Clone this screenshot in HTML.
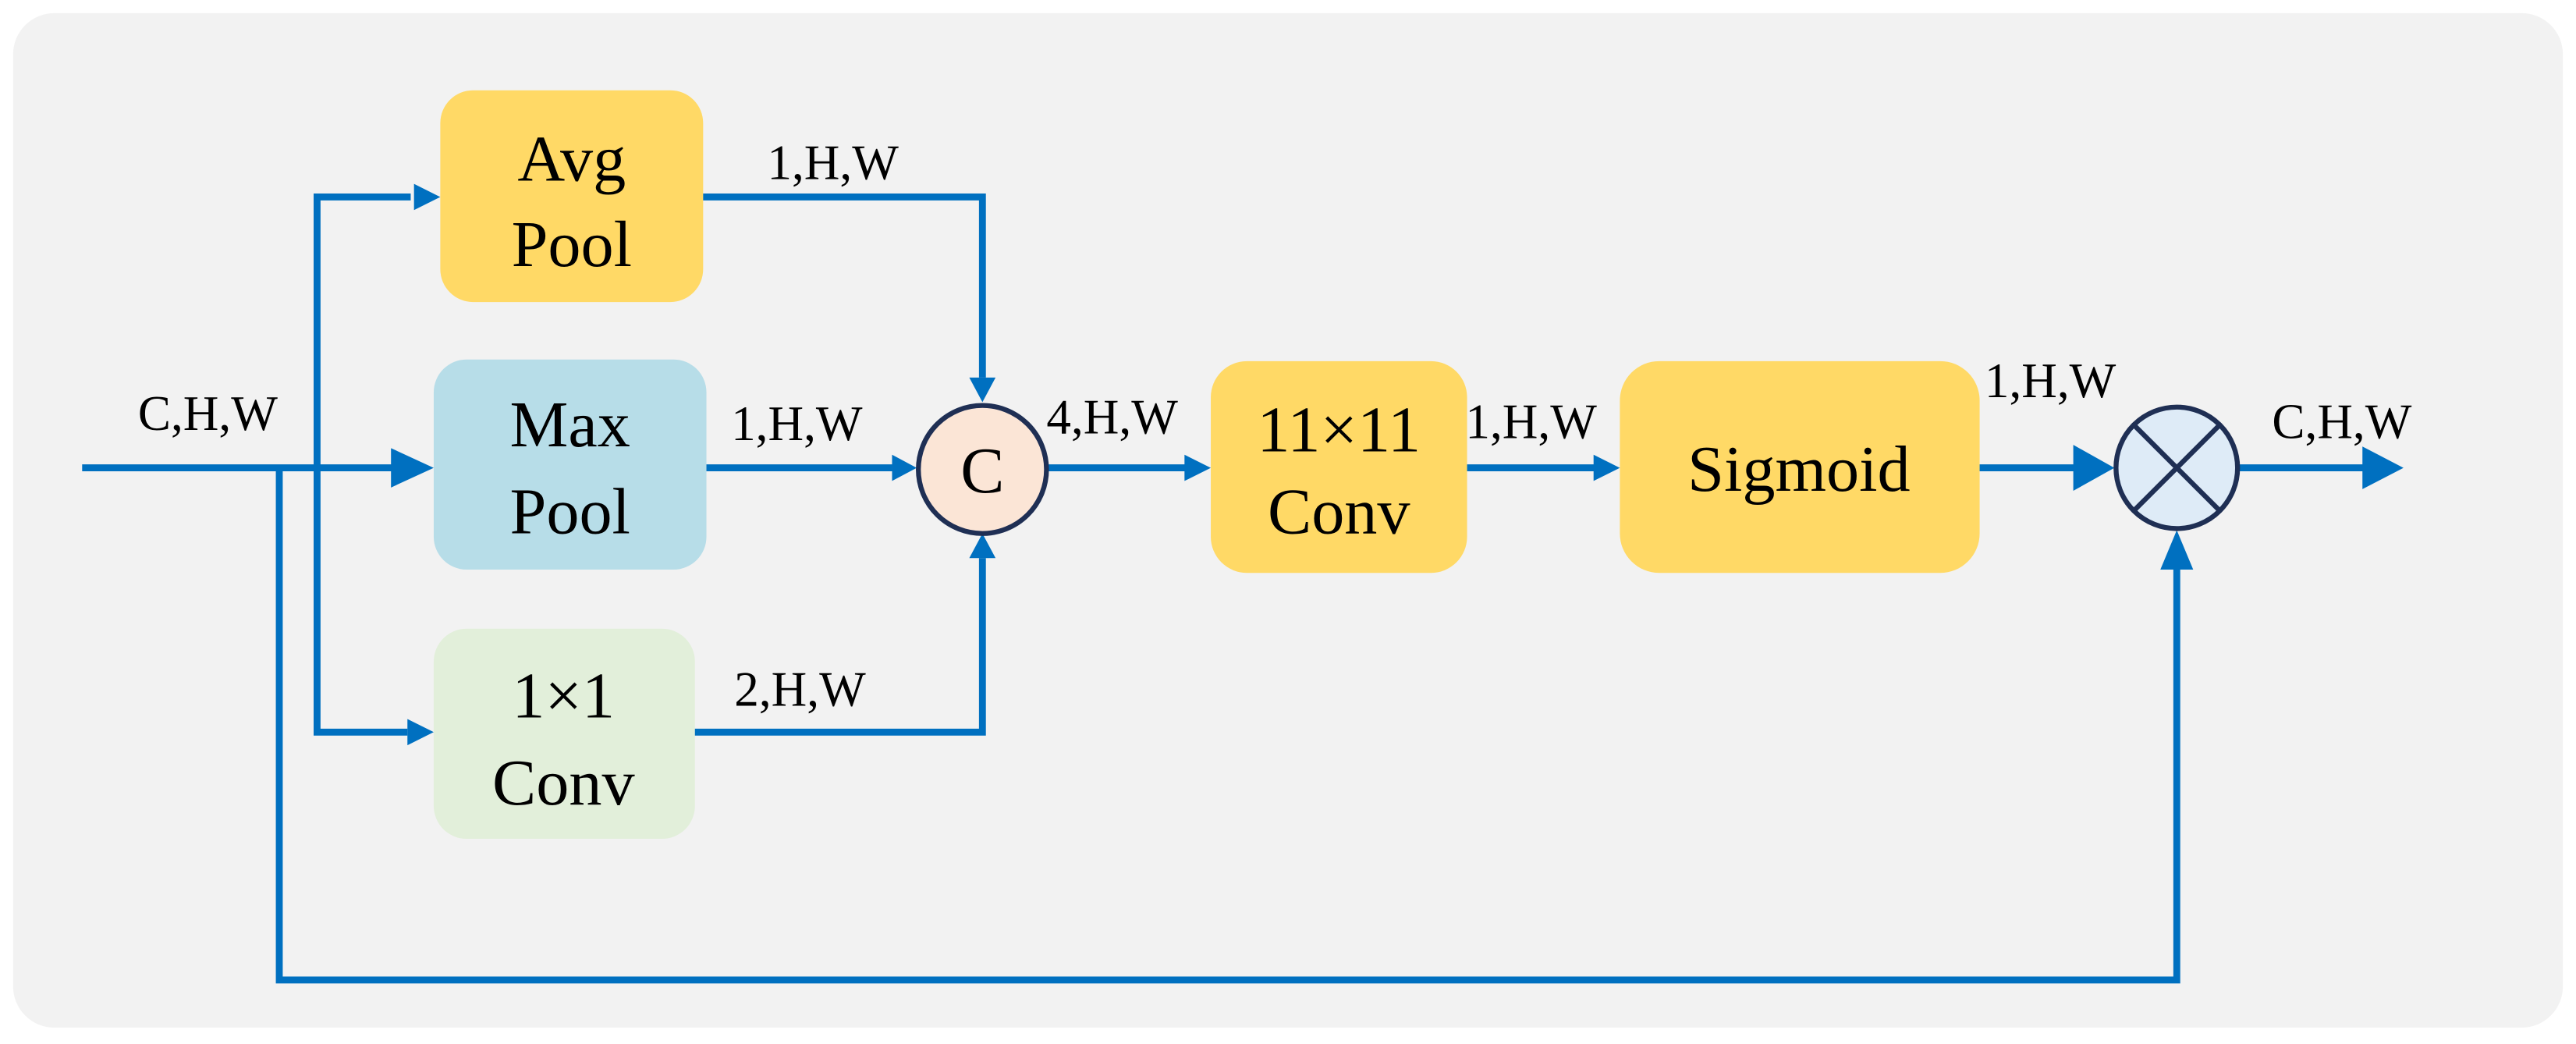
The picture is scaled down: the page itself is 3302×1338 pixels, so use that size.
<!DOCTYPE html>
<html><head><meta charset="utf-8"><style>
html,body{margin:0;padding:0;background:#fff;}
svg{display:block;}
text{font-family:"Liberation Serif",serif;fill:#000;}
</style></head><body>
<svg width="3302" height="1338" viewBox="0 0 1568 636" preserveAspectRatio="none" xmlns="http://www.w3.org/2000/svg">
<rect x="0" y="0" width="1568" height="636" fill="#fff"/>
<rect x="8" y="8" width="1552" height="618" rx="25" fill="#f2f2f2"/>
<!-- boxes -->
<rect x="268" y="55" width="160" height="129" rx="20" fill="#ffd966"/>
<rect x="264" y="219" width="166" height="128" rx="20" fill="#b7dde8"/>
<rect x="264" y="383" width="159" height="128" rx="20" fill="#e2efda"/>
<rect x="737" y="220" width="156" height="129" rx="22" fill="#ffd966"/>
<rect x="986" y="220" width="219" height="129" rx="24" fill="#ffd966"/>
<g fill="none" stroke="#0070c0" stroke-width="4.2">
<polyline points="50,285 245,285"/>
<polyline points="250,120 193,120 193,446 248,446"/>
<polyline points="170,285 170,597 1325,597 1325,345"/>
<polyline points="428,120 598,120 598,230"/>
<polyline points="423,446 598,446 598,340"/>
<polyline points="430,285 543,285"/>
<polyline points="638,285 722,285"/>
<polyline points="893,285 972,285"/>
<polyline points="1205,285 1265,285"/>
<polyline points="1363,285 1442,285"/>
</g>
<g fill="#0070c0">
<polygon points="268,120 252,112 252,128"/>
<polygon points="264,446 248,438 248,454"/>
<polygon points="264,285 238,273 238,297"/>
<polygon points="598,245 590,230 606,230"/>
<polygon points="598,325 590,340 606,340"/>
<polygon points="558,285 543,277 543,293"/>
<polygon points="737,285 721,277 721,293"/>
<polygon points="986,285 970,277 970,293"/>
<polygon points="1287,285 1262,271 1262,299"/>
<polygon points="1463,285 1438,272 1438,298"/>
<polygon points="1325,323 1315,347 1335,347"/>
</g>
<circle cx="598" cy="286" r="39" fill="#fbe5d6" stroke="#1f2f54" stroke-width="3"/>
<text x="598" y="300" font-size="40" text-anchor="middle">C</text>
<circle cx="1325" cy="285" r="37" fill="#deebf7" stroke="#1f2f54" stroke-width="3"/>
<g stroke="#1f2f54" stroke-width="3">
<line x1="1299" y1="259" x2="1351" y2="311"/><line x1="1351" y1="259" x2="1299" y2="311"/>
</g>
<g font-size="40" text-anchor="middle">
<text x="348" y="110">Avg</text><text x="348" y="162">Pool</text>
<text x="347" y="272">Max</text><text x="347" y="325">Pool</text>
<text x="343" y="437">1×1</text><text x="343" y="490">Conv</text>
<text x="815" y="275">11×11</text><text x="815" y="325">Conv</text>
<text x="1095" y="299">Sigmoid</text>
</g>
<g font-size="30">
<text x="84" y="262">C,H,W</text>
<text x="467" y="109">1,H,W</text>
<text x="445" y="268">1,H,W</text>
<text x="447" y="430">2,H,W</text>
<text x="637" y="264">4,H,W</text>
<text x="892" y="267">1,H,W</text>
<text x="1208" y="242">1,H,W</text>
<text x="1383" y="267">C,H,W</text>
</g>
</svg>
</body></html>
